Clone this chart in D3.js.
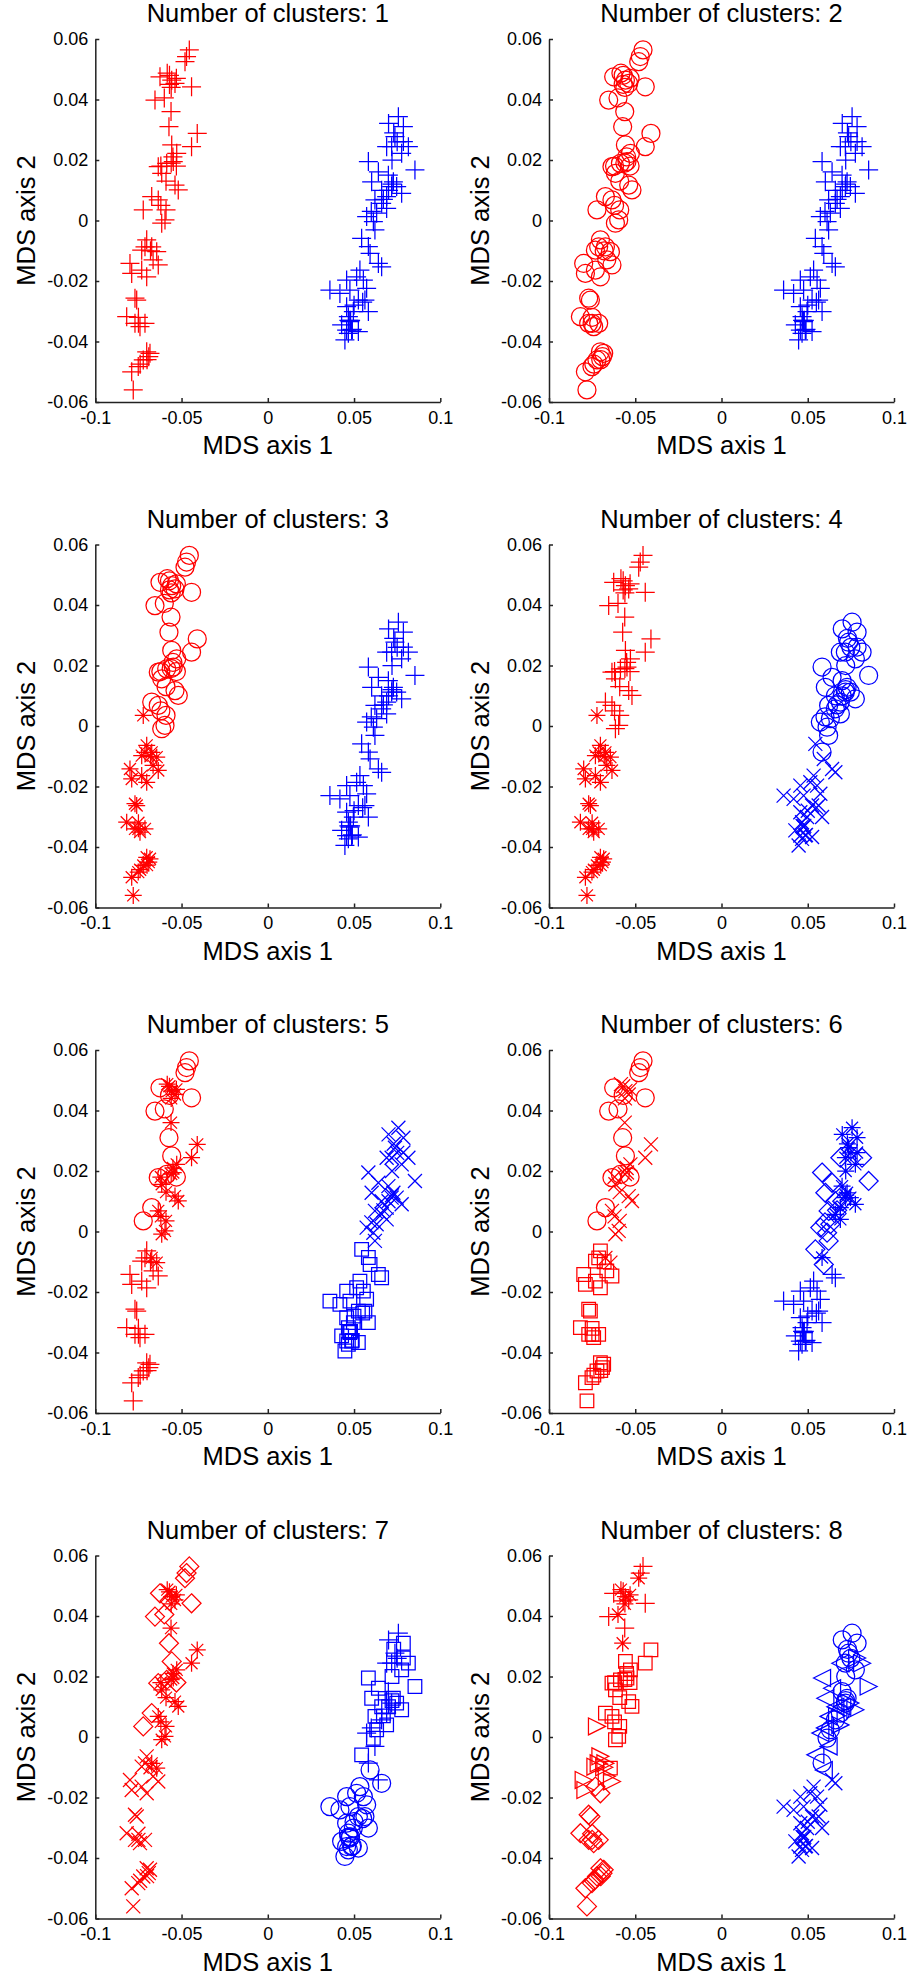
<!DOCTYPE html>
<html>
<head>
<meta charset="utf-8">
<script src="https://cdn.jsdelivr.net/npm/d3@7"></script>
<style>
  body { margin: 0; background: #fff; }
  svg { display: block; }
</style>
</head>
<body>
<div id="chart"></div>
<script>
// MDS coordinates of the two groups (same points in every panel)
const redX = [-0.0455,-0.0471,-0.0480,-0.0583,-0.0570,-0.0625,-0.0557,-0.0538,-0.0442,-0.0560,
  -0.0600,-0.0654,-0.0561,-0.0573,-0.0409,-0.0557,-0.0442,-0.0528,-0.0548,-0.0560,
  -0.0586,-0.0620,-0.0635,-0.0615,-0.0590,-0.0538,-0.0519,-0.0673,-0.0635,-0.0590,
  -0.0722,-0.0596,-0.0615,-0.0702,-0.0673,-0.0712,-0.0731,-0.0644,-0.0665,-0.0799,
  -0.0635,-0.0731,-0.0789,-0.0702,-0.0770,-0.0760,-0.0818,-0.0750,-0.0770,-0.0712,
  -0.0741,-0.0702,-0.0683,-0.0690,-0.0722,-0.0740,-0.0751,-0.0789,-0.0780,
  -0.0550,-0.0530,-0.0570,-0.0530,-0.0680,-0.0750,-0.0700,-0.0620]
const redY = [0.0564,0.0542,0.0525,0.0487,0.0480,0.0475,0.0464,0.0453,0.0442,0.0440,
  0.0405,0.0398,0.0360,0.0310,0.0288,0.0250,0.0244,0.0222,0.0195,0.0190,
  0.0189,0.0180,0.0178,0.0156,0.0130,0.0117,0.0101,0.0079,0.0068,0.0035,
  0.0035,0.0002,-0.0009,-0.0064,-0.0087,-0.0087,-0.0098,-0.0103,-0.0130,-0.0142,
  -0.0147,-0.0164,-0.0175,-0.0186,-0.0257,-0.0263,-0.0318,-0.0320,-0.0340,-0.0340,
  -0.0351,-0.0434,-0.0439,-0.0450,-0.0461,-0.0475,-0.0483,-0.0500,-0.0560,
  0.0210,0.0180,0.0450,0.0470,-0.0100,-0.0340,-0.0460,0.0050]
const blueX = [0.0757,0.0700,0.0786,0.0737,0.0786,0.0718,0.0815,0.0689,0.0776,0.0720,
  0.0583,0.0853,0.0641,0.0699,0.0728,0.0602,0.0747,0.0718,0.0660,0.0776,
  0.0689,0.0621,0.0660,0.0689,0.0600,0.0631,0.0573,0.0612,0.0621,0.0544,
  0.0583,0.0593,0.0641,0.0660,0.0534,0.0515,0.0457,0.0554,0.0573,0.0360,
  0.0476,0.0418,0.0525,0.0563,0.0500,0.0457,0.0496,0.0583,0.0467,0.0470,
  0.0476,0.0428,0.0457,0.0486,0.0525,0.0467,0.0447,
  0.0720,0.0700,0.0750,0.0480,0.0490,0.0670,0.0550,0.0730]
const blueY = [0.0343,0.0321,0.0310,0.0277,0.0261,0.0244,0.0244,0.0244,0.0222,0.0200,
  0.0195,0.0167,0.0161,0.0150,0.0128,0.0128,0.0112,0.0112,0.0100,0.0090,
  0.0079,0.0068,0.0057,0.0040,0.0030,0.0024,0.0013,-0.0004,-0.0031,-0.0059,
  -0.0086,-0.0109,-0.0142,-0.0153,-0.0164,-0.0186,-0.0197,-0.0197,-0.0224,-0.0230,
  -0.0230,-0.0241,-0.0263,-0.0263,-0.0280,-0.0285,-0.0301,-0.0301,-0.0318,-0.0330,
  -0.0334,-0.0345,-0.0362,-0.0362,-0.0367,-0.0373,-0.0395,
  0.0120,0.0100,0.0260,-0.0330,-0.0360,0.0070,-0.0270,0.0290]

const clusterCounts = [1, 2, 3, 4, 5, 6, 7, 8]

// marker of each point per panel (one char per point, same order as above)
const redMarkers = [
  ["++++++++++","++++++++++","++++++++++","++++++++++","++++++++++","+++++++++","++++++++"],
  ["oooooooooo","oooooooooo","oooooooooo","oooooooooo","oooooooooo","ooooooooo","oooooooo"],
  ["oooooooooo","oooooooooo","oooooooooo","*oo*******","**********","*********","oooo***o"],
  ["++++++++++","++++++++++","++++++++++","*++*******","**********","*********","++++***+"],
  ["ooo**o**o*","oo*o*o****","o*o****o**","o**+*++*++","++++++++++","+++++++++","*oo*+++*"],
  ["oooxxoxxox","ooxoxoxxxx","oxoxxxxoxx","oxxsxssxss","ssssssssss","sssssssss","xooxsssx"],
  ["ddd**d**d*","dd*d*d****","d*d****d**","d**x*xx*xx","xxxxxxxxxx","xxxxxxxxx","*dd*xxx*"],
  ["++**++*++*","*++*ssssss","ssssssssss",">ss>>>>s>>",">d>ddddddd","ddddddddd","ss+*>dds"]
].map(g => g.join(""))
const blueMarkers = [
  ["++++++++++","++++++++++","++++++++++","++++++++++","++++++++++","+++++++","++++++++"],
  ["++++++++++","++++++++++","++++++++++","++++++++++","++++++++++","+++++++","++++++++"],
  ["++++++++++","++++++++++","++++++++++","++++++++++","++++++++++","+++++++","++++++++"],
  ["oooooooooo","oooooooooo","ooooooooox","oxxxxxxxxx","xxxxxxxxxx","xxxxxxx","oooxxoxo"],
  ["xxxxxxxxxx","xxxxxxxxxx","xxxxxxxxxs","ssssssssss","ssssssssss","sssssss","xxxssxsx"],
  ["******dd**","ddd**d**d*","*d**dddddd","*d++++++++","++++++++++","+++++++","*d*++d+*"],
  ["++s+s+s+ss","sss+sss+ss","+s+s+s+s+s","+o+ooooooo","oooooooooo","ooooooo","ss+oosos"],
  ["oooo>o><oo","<><oo<>o<>","o<o><o<o<<","o<xxxxxxxx","xxxxxxxxxx","xxxxxxx","o<oxx>xo"]
].map(g => g.join(""))

const xTicks = [-0.1, -0.05, 0, 0.05, 0.1]
const xTickLabels = ["-0.1", "-0.05", "0", "0.05", "0.1"]
const yTicks = [-0.06, -0.04, -0.02, 0, 0.02, 0.04, 0.06]
const yTickLabels = ["-0.06", "-0.04", "-0.02", "0", "0.02", "0.04", "0.06"]

const width = 914, height = 1980
const plotW = 345, plotH = 363
const colLeft = [95.3, 549]
const rowTop = [39, 544.5, 1050, 1555.5]
const font = "'Liberation Sans', Arial, sans-serif"
const axisColor = "#222"

// marker shapes, centred on 0,0
const markerPath = {
    "+": "M-9.5,0H9.5M0,-9.5V9.5",
    "x": "M-7,-7L7,7M-7,7L7,-7",
    "*": "M-8.5,0H8.5M0,-8.5V8.5M-6,-6L6,6M-6,6L6,-6",
    "s": "M-6.8,-6.8H6.8V6.8H-6.8Z",
    "d": "M0,-9.5L9.5,0L0,9.5L-9.5,0Z",
    "o": "M9,0A9,9 0 1,1 -9,0A9,9 0 1,1 9,0Z",
    "<": "M-8.5,0L8.5,-8.5L8.5,8.5Z",
    ">": "M8.5,0L-8.5,-8.5L-8.5,8.5Z"
}

let svg = d3.select("#chart").append("svg")
    .attr("width", width)
    .attr("height", height)

const x = d3.scaleLinear().domain([-0.1, 0.1]).range([0, plotW])
const y = d3.scaleLinear().domain([-0.06, 0.06]).range([plotH, 0])

clusterCounts.forEach(function (k, p) {
    var g = svg.append("g")
        .attr("transform", "translate(" + colLeft[p % 2] + "," + rowTop[Math.floor(p / 2)] + ")")

    var points = []
    redX.forEach(function (v, i) {
        points.push({ x: v, y: redY[i], m: redMarkers[p][i], c: "#ff0000" })
    })
    blueX.forEach(function (v, i) {
        points.push({ x: v, y: blueY[i], m: blueMarkers[p][i], c: "#0000ff" })
    })

    g.selectAll(".pt")
        .data(points)
        .join("path")
        .attr("class", "pt")
        .attr("transform", function (d) {
            return "translate(" + x(d.x) + "," + y(d.y) + ")"
        })
        .attr("d", function (d) { return markerPath[d.m] })
        .attr("fill", "none")
        .attr("stroke", function (d) { return d.c })
        .attr("stroke-width", 1.25)

    // axes, ticks pointing inward like the original
    var xAxis = g.append("g")
        .attr("transform", "translate(0," + plotH + ")")
        .call(d3.axisBottom(x).tickValues(xTicks).tickSize(-4).tickSizeOuter(0)
            .tickPadding(9).tickFormat(function (d, i) { return xTickLabels[i] }))
    var yAxis = g.append("g")
        .call(d3.axisLeft(y).tickValues(yTicks).tickSize(-4).tickSizeOuter(0)
            .tickPadding(7).tickFormat(function (d, i) { return yTickLabels[i] }))

    ;[xAxis, yAxis].forEach(function (a) {
        a.attr("font-family", font).attr("font-size", 18)
        a.select(".domain").attr("stroke", axisColor).attr("stroke-width", 1.5)
        a.selectAll(".tick line").attr("stroke", axisColor).attr("stroke-width", 1.5)
        a.selectAll(".tick text").attr("fill", "#000")
    })

    g.append("text")
        .attr("x", plotW / 2)
        .attr("y", -16.7)
        .attr("text-anchor", "middle")
        .attr("font-family", font)
        .attr("font-size", 25.5)
        .text("Number of clusters: " + k)

    g.append("text")
        .attr("x", plotW / 2)
        .attr("y", plotH + 52)
        .attr("text-anchor", "middle")
        .attr("font-family", font)
        .attr("font-size", 25.5)
        .text("MDS axis 1")

    g.append("text")
        .attr("transform", "rotate(-90)")
        .attr("x", -plotH / 2)
        .attr("y", -60)
        .attr("text-anchor", "middle")
        .attr("font-family", font)
        .attr("font-size", 25.5)
        .text("MDS axis 2")
})
</script>
</body>
</html>
